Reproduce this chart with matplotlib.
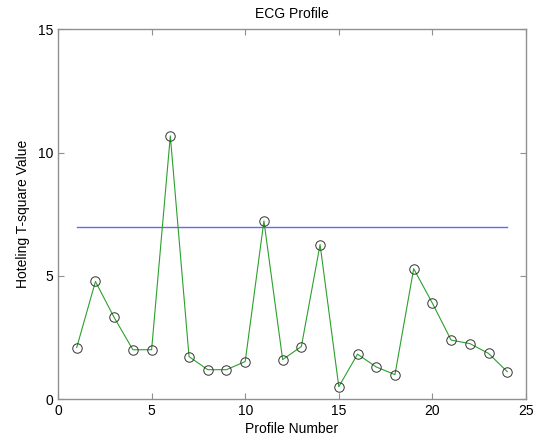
import matplotlib
matplotlib.use("Agg")
import matplotlib.pyplot as plt

profiles = list(range(1, 25))
t2_values = [2.09, 4.77, 3.31, 2.0, 2.0, 10.68, 1.72, 1.19, 1.19, 1.52, 7.23, 1.6,
             2.13, 6.27, 0.5, 1.82, 1.30, 0.99, 5.29, 3.89, 2.39, 2.25, 1.85, 1.11]
threshold = 7.0
x_ticks = [0, 5, 10, 15, 20, 25]
y_ticks = [0, 5, 10, 15]

plt.rcParams['font.family'] = ['Liberation Sans', 'DejaVu Sans']
fig = plt.figure(figsize=(5.5, 4.44), dpi=100)
ax = fig.add_axes([58/550, 1 - 399/444, (526 - 58)/550, (399 - 29.5)/444])

ax.plot([profiles[0], profiles[-1]], [threshold, threshold], color='#6666ff', lw=1.0)
ax.plot(profiles, t2_values, color='#2ca02c', lw=0.8)
ax.plot(profiles, t2_values, linestyle='none', marker='o', markersize=6.8,
        markerfacecolor='none', markeredgecolor='#333333', markeredgewidth=0.7)

ax.set_xlim(0, 25)
ax.set_ylim(0, 15)
ax.set_xticks(x_ticks)
ax.set_yticks(y_ticks)
for s in ax.spines.values():
    s.set_color('#909090')
    s.set_linewidth(1.0)
ax.tick_params(direction='in', length=4, color='#909090', top=True, right=True,
               labelsize=10, labelcolor='black', width=0.8)
ax.set_title('ECG Profile', fontsize=10, pad=8)
ax.set_xlabel('Profile Number', fontsize=10, labelpad=3)
ax.set_ylabel('Hoteling T-square Value', fontsize=10, labelpad=5.5)

fig.savefig('out.png', dpi=100)
